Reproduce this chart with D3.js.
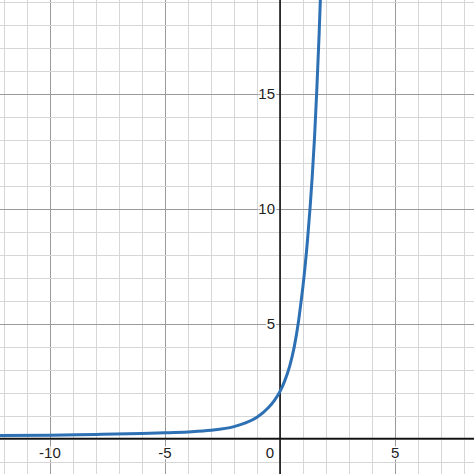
<!DOCTYPE html>
<meta charset="utf-8">
<style>
    body { margin: 0; background: #fff; }
    .minor { stroke: #d6d6d6; stroke-width: 1; }
    .major { stroke: #9a9a9a; stroke-width: 1; }
    .axis-line { stroke: #111; stroke-width: 1.6; }
    .curve { fill: none; stroke: #2d70b3; stroke-width: 3; }
    .lbl {
        font-family: "Liberation Sans", Arial, sans-serif;
        font-size: 15px;
        fill: #222;
        stroke: #fff;
        stroke-width: 3px;
        paint-order: stroke;
    }
</style>
<body></body>
<script src="https://cdnjs.cloudflare.com/ajax/libs/d3/7.8.5/d3.min.js"></script>
<script>
    // curve points (x, y)
    var curveX = [-12.2, -10, -8, -6, -5, -4, -3, -2, -1.5, -1, -0.5, -0.25, 0, 0.2, 0.42, 0.62, 0.79, 0.92, 1.0, 1.2, 1.4, 1.5, 1.6, 1.7, 1.76];
    var curveY = [0.13, 0.15, 0.18, 0.22, 0.25, 0.29, 0.36, 0.52, 0.68, 0.93, 1.35, 1.65, 2.05, 2.5, 3.15, 4.0, 5.0, 6.0, 6.65, 8.7, 11.4, 13.1, 15.2, 17.6, 19.3];

    var xTickLabels = [-10, -5, 5];
    var yTickLabels = [5, 10, 15];
    var originLabel = "0";

    var width = 474,
        height = 474;

    var x = d3.scaleLinear().domain([-12.17, 8.43]).range([0, width]);
    var y = d3.scaleLinear().domain([-1.54, 19.07]).range([height, 0]);

    var svg = d3.select("body").append("svg")
        .attr("width", width)
        .attr("height", height);

    svg.append("defs").append("clipPath").attr("id", "clip")
        .append("rect").attr("width", width).attr("height", height);

    // grid: one line per unit, darker every 5
    var gx = d3.range(Math.ceil(x.domain()[0]), Math.floor(x.domain()[1]) + 1);
    var gy = d3.range(Math.ceil(y.domain()[0]), Math.floor(y.domain()[1]) + 1);

    svg.selectAll(".gx").data(gx).enter().append("line")
        .attr("class", d => d % 5 === 0 ? "major" : "minor")
        .attr("x1", d => Math.round(x(d)) + 0.5).attr("x2", d => Math.round(x(d)) + 0.5)
        .attr("y1", 0).attr("y2", height);

    svg.selectAll(".gy").data(gy).enter().append("line")
        .attr("class", d => d % 5 === 0 ? "major" : "minor")
        .attr("y1", d => Math.round(y(d)) + 0.5).attr("y2", d => Math.round(y(d)) + 0.5)
        .attr("x1", 0).attr("x2", width);

    // axes
    svg.append("line").attr("class", "axis-line")
        .attr("x1", x(0)).attr("x2", x(0)).attr("y1", 0).attr("y2", height);
    svg.append("line").attr("class", "axis-line")
        .attr("x1", 0).attr("x2", width).attr("y1", y(0)).attr("y2", y(0));

    // labels
    svg.selectAll(".xl").data(xTickLabels).enter().append("text")
        .attr("class", "lbl")
        .attr("x", d => x(d))
        .attr("y", y(0) + 19)
        .attr("text-anchor", "middle")
        .text(d => d);

    svg.selectAll(".yl").data(yTickLabels).enter().append("text")
        .attr("class", "lbl")
        .attr("x", x(0) - 5)
        .attr("y", d => y(d))
        .attr("dy", "0.35em")
        .attr("text-anchor", "end")
        .text(d => d);

    svg.append("text").attr("class", "lbl")
        .attr("x", x(0) - 6)
        .attr("y", y(0) + 19)
        .attr("text-anchor", "end")
        .text(originLabel);

    // the curve
    var pts = curveX.map((v, i) => [v, curveY[i]]);
    var line = d3.line()
        .x(d => x(d[0]))
        .y(d => y(d[1]))
        .curve(d3.curveMonotoneX);

    svg.append("path")
        .datum(pts)
        .attr("class", "curve")
        .attr("clip-path", "url(#clip)")
        .attr("d", line);
</script>
